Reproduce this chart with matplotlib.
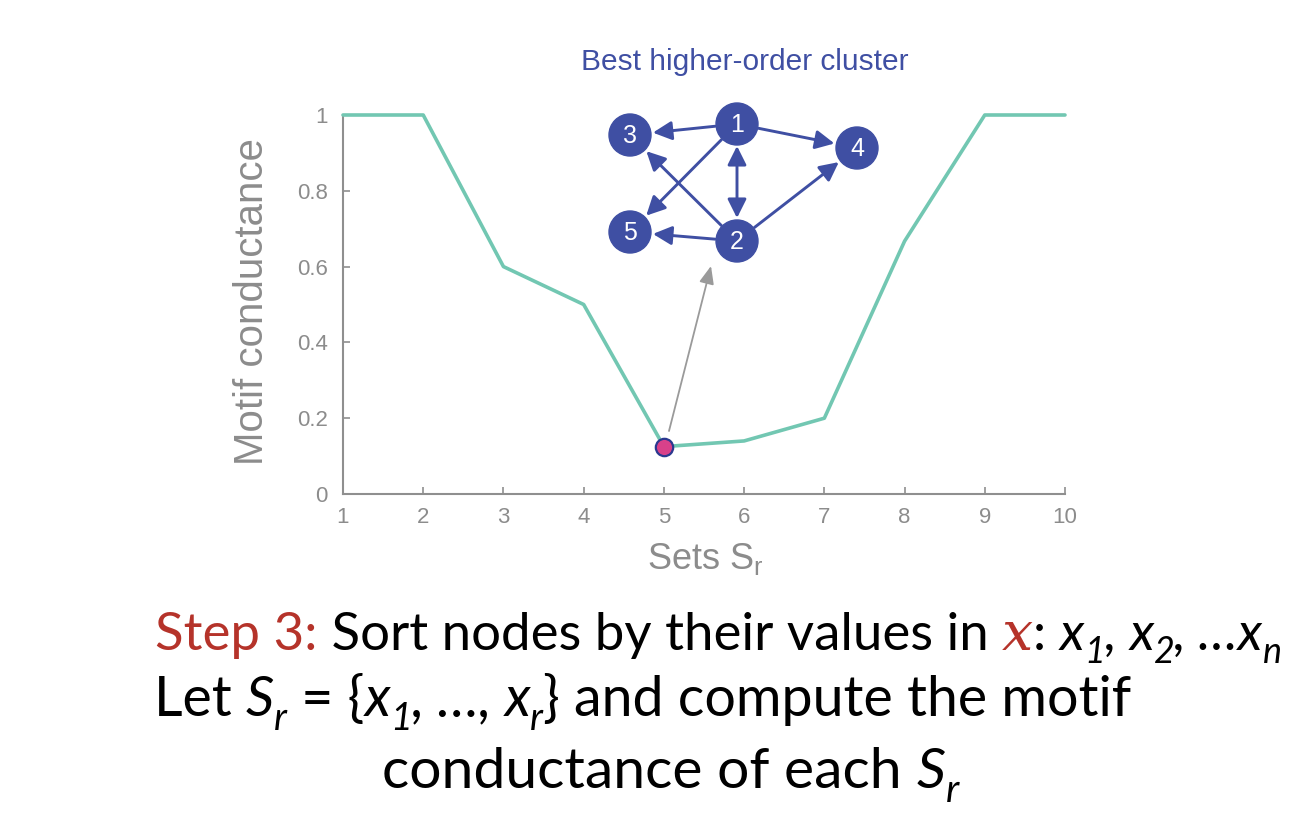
import matplotlib
matplotlib.use("Agg")
import matplotlib.pyplot as plt
import numpy as np

# ---------------- data ----------------
sets_r = [1, 2, 3, 4, 5, 6, 7, 8, 9, 10]
motif_conductance = [1.0, 1.0, 0.6, 0.5, 0.125, 0.14, 0.2, 0.667, 1.0, 1.0]
best_index = 4
x_ticks = [1, 2, 3, 4, 5, 6, 7, 8, 9, 10]
y_ticks = [0, 0.2, 0.4, 0.6, 0.8, 1]
y_tick_labels = ["0", "0.2", "0.4", "0.6", "0.8", "1"]

node_labels = ["1", "2", "3", "4", "5"]
node_pos_px = {"1": (737, 124), "2": (737, 241), "3": (630, 135),
               "4": (857, 148), "5": (630, 232)}
edges = [("1", "3", False), ("1", "4", False), ("1", "2", True),
         ("1", "5", False), ("2", "3", False), ("2", "5", False),
         ("2", "4", False)]

W, H = 1304, 822
fig = plt.figure(figsize=(W / 100, H / 100), dpi=100)

GRAY = "#8c8c8c"
TEAL = "#72c7b2"
NODE = "#3f4fa3"

# ---------------- main axes ----------------
AX_L, AX_R, AX_B, AX_T = 343, 1065, 494, 115
ax = fig.add_axes([AX_L / W, 1 - AX_B / H, (AX_R - AX_L) / W, (AX_B - AX_T) / H])
ax.plot(sets_r, motif_conductance, color=TEAL, lw=2.6, solid_capstyle="round",
        zorder=3, clip_on=False)
ax.plot([sets_r[best_index]], [motif_conductance[best_index]], "o",
        ms=12.5, mfc="#d8418a", mec="#2b3990", mew=1.6, zorder=4, clip_on=False)
ax.set_xlim(1, 10)
ax.set_ylim(0, 1)
ax.set_xticks(x_ticks)
ax.set_yticks(y_ticks)
ax.set_yticklabels(y_tick_labels)
for s in ["top", "right"]:
    ax.spines[s].set_visible(False)
for s in ["left", "bottom"]:
    ax.spines[s].set_color("#8f8f8f")
    ax.spines[s].set_linewidth(1.5)
ax.tick_params(direction="in", length=5, width=1.2, color="#8f8f8f",
               labelcolor=GRAY, labelsize=16)
ax.tick_params(axis="x", pad=9)
ax.tick_params(axis="y", pad=11)
for lab in ax.get_xticklabels() + ax.get_yticklabels():
    lab.set_family("Liberation Sans")
ax.set_ylabel("Motif conductance", fontsize=29, color=GRAY,
              family="Liberation Sans", va="center")
ax.yaxis.set_label_coords((252 - AX_L) / (AX_R - AX_L), (AX_B - 302) / (AX_B - AX_T))
ax.set_xlabel(r"Sets $\mathregular{S_r}$", fontsize=26, color=GRAY,
              family="Liberation Sans", va="top")
ax.xaxis.set_label_coords((705 - AX_L) / (AX_R - AX_L), (AX_B - 541) / (AX_B - AX_T))

# ---------------- overlay in pixel coordinates ----------------
ov = fig.add_axes([0, 0, 1, 1], zorder=5)
ov.set_xlim(0, W)
ov.set_ylim(H, 0)
ov.axis("off")
ov.patch.set_alpha(0)

ov.text(745, 62, "Best higher-order cluster", color=NODE, fontsize=21.5,
        family="Liberation Sans", ha="center", va="center")

R = 21
for n in node_labels:
    x, y = node_pos_px[n]
    ov.add_patch(plt.Circle((x, y), R, color=NODE, zorder=3))
    ov.text(x, y + 1, n, color="white", fontsize=18, family="Liberation Sans",
            ha="center", va="center", zorder=4)

for a, b, both in edges:
    p = np.array(node_pos_px[a], float)
    q = np.array(node_pos_px[b], float)
    u = (q - p) / np.linalg.norm(q - p)
    s = p + u * (R + 1)
    e = q - u * (R + 2)
    style = "<|-|>" if both else "-|>"
    ov.annotate("", xy=e, xytext=s,
                arrowprops=dict(arrowstyle=style + ",head_length=0.6,head_width=0.3",
                                mutation_scale=19, color=NODE, lw=2.1,
                                shrinkA=0, shrinkB=0), zorder=2)

# gray pointer arrow from the best set to the cluster
ov.annotate("", xy=(711, 266), xytext=(669, 431),
            arrowprops=dict(arrowstyle="-|>,head_length=0.6,head_width=0.25",
                            mutation_scale=18, color="#9a9a9a", lw=1.3,
                            shrinkA=0, shrinkB=0))

# ---------------- bottom caption ----------------
RED = "#b5332a"
renderer = fig.canvas.get_renderer()


def measure(txt, **kw):
    t1 = ov.text(0, 0, "|" + txt + "|", **kw)
    t2 = ov.text(0, 0, "||", **kw)
    w = t1.get_window_extent(renderer).width - t2.get_window_extent(renderer).width
    t1.remove()
    t2.remove()
    return w


def style_for(kind, fs):
    if kind == "n":
        return dict(family="Lato", fontsize=fs), 0
    if kind == "i":
        return dict(family="Lato", style="italic", fontsize=fs), 0
    if kind == "s":
        return dict(family="Lato", style="italic", fontsize=fs * 0.68), fs * 0.34
    if kind == "m":
        return dict(family="DejaVu Serif", style="italic", fontsize=fs * 1.05), 0


def draw_line(pieces, x_left, x_right, baseline, fs):
    items = []
    total = 0
    for txt, col, kind in pieces:
        kw, dy = style_for(kind, fs)
        w = measure(txt, **kw)
        items.append((txt, col, kw, dy, w))
        total += w
    x = (x_left + x_right) / 2 - total / 2
    for txt, col, kw, dy, w in items:
        ov.text(x, baseline + dy, txt, color=col, ha="left", va="baseline", **kw)
        x += w


line1 = [("Step 3:", RED, "n"), (" Sort nodes by their values in ", "black", "n"),
         ("x", RED, "m"), (": ", "black", "n"), ("x", "black", "i"), ("1", "black", "s"),
         (", ", "black", "i"), ("x", "black", "i"), ("2", "black", "s"),
         (", \u2026x", "black", "i"), ("n", "black", "s")]
line2 = [("Let ", "black", "n"), ("S", "black", "i"), ("r", "black", "s"),
         (" = {", "black", "n"), ("x", "black", "i"), ("1", "black", "s"),
         (", \u2026, ", "black", "i"), ("x", "black", "i"), ("r", "black", "s"),
         ("} and compute the motif", "black", "n")]
line3 = [("conductance of each ", "black", "n"), ("S", "black", "i"), ("r", "black", "s")]

draw_line(line1, 152, 1285, 650, 38)
draw_line(line2, 155, 1130, 716, 40)
draw_line(line3, 373, 968, 788, 41)

fig.savefig("out.png", dpi=100)
